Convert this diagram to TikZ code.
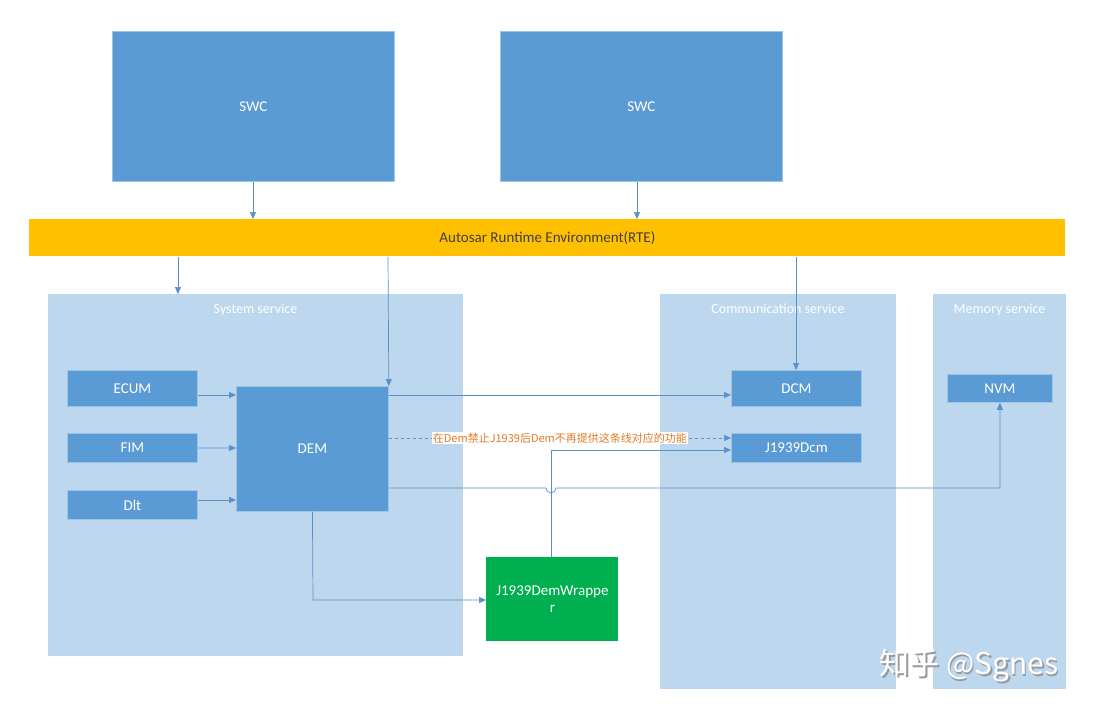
\documentclass[tikz,border=0pt]{standalone}
\usepackage{fontspec}
\setmainfont{Carlito}
\newfontfamily\cjk{Noto Sans CJK SC}
\usetikzlibrary{arrows.meta}
\definecolor{bx}{HTML}{5B9BD5}
\definecolor{bxb}{HTML}{9DC3E6}
\definecolor{lb}{HTML}{BDD7EE}
\definecolor{ln}{HTML}{5B8FC9}
\definecolor{rte}{HTML}{FFC000}
\definecolor{gr}{HTML}{00B050}
\definecolor{orl}{HTML}{E07B28}
\begin{document}
\begin{tikzpicture}[x=1pt,y=-1pt,
 box/.style={draw=bxb,fill=bx,text=white,font=\fontsize{15}{17}\selectfont,line width=0.8pt,anchor=north west,inner sep=0pt,align=center},
 grp/.style={fill=lb,draw=none},
 gl/.style={text=white,font=\fontsize{14}{16}\selectfont,anchor=north},
 ar/.style={draw=ln,line width=0.7pt,-{Triangle[length=7pt,width=6pt]}}]
\useasboundingbox (0,0) rectangle (1107,721);
\fill[white] (0,0) rectangle (1107,721);
% groups
\path[grp] (48,294) rectangle (463,656);
\path[grp] (660,294) rectangle (896,689);
\path[grp] (933,294) rectangle (1066,689);
\node[gl] (gs) at (255.5,300) {System service};
\node[gl] (gc) at (778,300) {Communication service};
\node[gl] (gm) at (999.5,300) {Memory service};
% boxes
\node[box,minimum width=282pt,minimum height=150pt] (swc1) at (112,31) {SWC};
\node[box,minimum width=282pt,minimum height=150pt] (swc2) at (500,31) {SWC};
\node[box,draw=none,fill=rte,text=black!75,minimum width=1036pt,minimum height=37pt] (rte) at (29,219) {Autosar Runtime Environment(RTE)};
\node[box,minimum width=130pt,minimum height=36pt] (ecum) at (67,370) {ECUM};
\node[box,minimum width=130pt,minimum height=29pt] (fim) at (67,433) {FIM};
\node[box,minimum width=130pt,minimum height=29pt] (dlt) at (67,490) {Dlt};
\node[box,minimum width=152pt,minimum height=125pt] (dem) at (236,386) {DEM};
\node[box,minimum width=130pt,minimum height=36pt] (dcm) at (731,370) {DCM};
\node[box,minimum width=130pt,minimum height=29pt] (jdcm) at (731,433) {J1939Dcm};
\node[box,minimum width=105pt,minimum height=28pt] (nvm) at (947,374) {NVM};
\node[box,draw=none,fill=gr,minimum width=132pt,minimum height=84pt] (wr) at (486,557) {J1939DemWrappe\\r};
% connectors
\draw[ar] (swc1.south -| 253,0) -- (rte.north -| 253,0);
\draw[ar] (swc2.south -| 637,0) -- (rte.north -| 637,0);
\coordinate (ss) at (178,294);
\draw[ar] (rte.south -| 178,0) -- (ss);
\draw[ar] (rte.south -| 388,0) -- (dem.north east);
\draw[ar] (rte.south -| 796,0) -- (dcm.north -| 796,0);
\draw[ar] (ecum.east |- 0,395) -- (dem.west |- 0,395);
\draw[ar] (fim.east) -- (dem.west |- 0,448);
\draw[ar] (dlt.east |- 0,500) -- (dem.west |- 0,500);
\draw[ar] (dem.east |- 0,395) -- (dcm.west |- 0,395);
\draw[ar,dashed] (dem.east |- 0,438) -- (jdcm.west |- 0,438) node[pos=0.5,fill=white,inner sep=1pt,text=orl,font=\cjk\fontsize{11}{12}\selectfont] (lbl) {在Dem禁止J1939后Dem不再提供这条线对应的功能};
\draw[ar] (wr.north -| 551,0) -- (551,450) -- (jdcm.west |- 0,450);
\draw[ar] (dem.east |- 0,488) -- (546,488) arc[start angle=180,end angle=0,radius=5] -- (1000,488) -- (nvm.south);
\draw[ar] (dem.south) -- (313,600) -- (wr.west |- 0,600);
% watermark
\node[text=black!40,font=\cjk\fontsize{30}{32}\selectfont,anchor=west] (wms) at (877.5,667.5) {知乎 @Sgnes};
\node[text=white,font=\cjk\fontsize{30}{32}\selectfont,anchor=west] (wm) at (876,666) {知乎 @Sgnes};
\end{tikzpicture}
\end{document}
